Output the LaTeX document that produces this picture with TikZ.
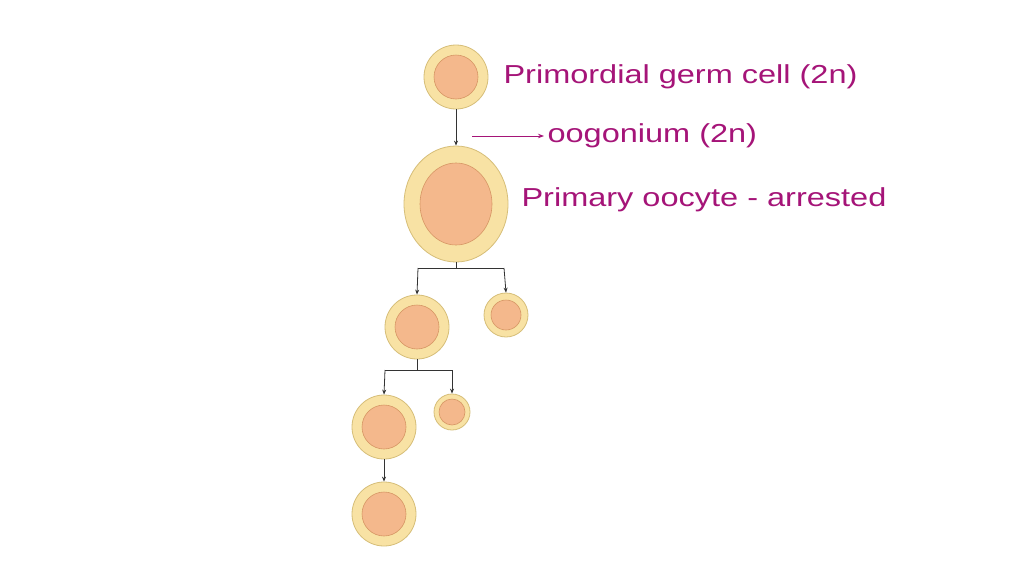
\documentclass[tikz,border=0pt]{standalone}
\usepackage{fontspec}
\usetikzlibrary{shapes.geometric,arrows.meta}
\setmainfont{Liberation Sans}
\newfontfamily\hand[FakeStretch=1.25]{Liberation Sans}
\definecolor{outc}{RGB}{248,226,164}
\definecolor{outd}{RGB}{214,190,120}
\definecolor{inc}{RGB}{244,184,140}
\definecolor{ind}{RGB}{214,150,100}
\definecolor{ink}{RGB}{165,20,120}
\begin{document}
\begin{tikzpicture}[x=1pt,y=-1pt,
  cell/.style={circle,draw=outd,fill=outc,line width=0.8pt,inner sep=0pt},
  nuc/.style={circle,draw=ind,fill=inc,line width=0.6pt,inner sep=0pt},
  con/.style={draw=black!80,line width=0.8pt},
  arr/.style={con,-{Stealth[length=5pt,width=4pt]}},
  lab/.style={text=ink,font=\hand\fontsize{26}{30}\selectfont,anchor=west}]
\useasboundingbox (0,0) rectangle (1024,576);
\fill[white] (0,0) rectangle (1024,576);
% cells
\node[cell,minimum size=64pt] (c1) at (456,77) {};
\node[nuc,minimum size=44pt] at (c1) {};
\node[cell,ellipse,minimum width=104pt,minimum height=116pt] (c2) at (456,204) {};
\node[nuc,ellipse,minimum width=72pt,minimum height=82pt] at (c2) {};
\node[cell,minimum size=64pt] (c3) at (417,327) {};
\node[nuc,minimum size=44pt] at (c3) {};
\node[cell,minimum size=44pt] (c4) at (506,315) {};
\node[nuc,minimum size=30pt] at (c4) {};
\node[cell,minimum size=64pt] (c5) at (384,427) {};
\node[nuc,minimum size=44pt] at (c5) {};
\node[cell,minimum size=36pt] (c6) at (452,412) {};
\node[nuc,minimum size=26pt] at (c6) {};
\node[cell,minimum size=64pt] (c7) at (384,514) {};
\node[nuc,minimum size=44pt] at (c7) {};
% connectors
\draw[arr] (c1.south) -- (c2.north);
\coordinate (b1) at (456,268);
\draw[con] (c2.south) -- (b1);
\draw[con] (418,268) -- (504,268);
\draw[arr] (418,268) -- (c3.north);
\draw[arr] (504,268) -- (c4.north);
\coordinate (b2) at (417,370);
\draw[con] (c3.south) -- (b2);
\draw[con] (385,370) -- (452,370);
\draw[arr] (385,370) -- (c5.north);
\draw[arr] (452,370) -- (c6.north);
\draw[arr] (c5.south) -- (c7.north);
% labels
\node[lab] (t1) at (500,77) {Primordial germ cell (2n)};
\coordinate (a0) at (472,136);
\node[lab] (t2) at (544,136) {oogonium (2n)};
\draw[ink,line width=1pt,-{Stealth[length=6pt]}] (a0) -- (t2.west);
\node[lab] (t3) at (518,200) {Primary oocyte - arrested};
\end{tikzpicture}
\end{document}
